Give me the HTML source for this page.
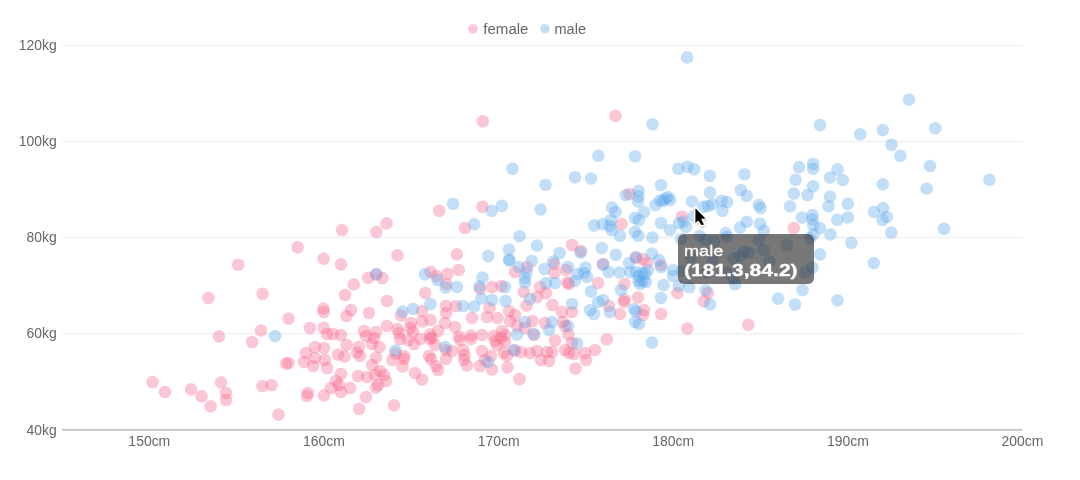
<!DOCTYPE html>
<html><head><meta charset="utf-8"><style>
html,body{margin:0;padding:0;background:#fff;}
body{width:1080px;height:480px;overflow:hidden;position:relative;font-family:"Liberation Sans",sans-serif;}
svg{position:absolute;left:0;top:0;}
.gs{will-change:transform;}
.tip{will-change:transform;position:absolute;left:678px;top:233.6px;width:136.4px;height:49.5px;border-radius:6px;background:rgba(50,50,50,0.66);color:#fff;}
.tip span{position:absolute;left:6px;display:inline-block;transform-origin:0 0;white-space:nowrap;font-size:15px;line-height:15px;}
.tip .l1{top:8.5px;-webkit-text-stroke:0.3px #fff;transform:scaleX(1.21);}
.tip .l2{top:28.5px;font-weight:bold;-webkit-text-stroke:0.3px #fff;font-size:16px;line-height:16px;transform:scaleX(1.317);}
</style></head><body>
<svg class="gs" width="1080" height="480" viewBox="0 0 1080 480">
<g stroke="#f1f1f1" stroke-width="1.5"><line x1="62" y1="45.4" x2="1022.5" y2="45.4"/><line x1="62" y1="141.5" x2="1022.5" y2="141.5"/><line x1="62" y1="237.6" x2="1022.5" y2="237.6"/><line x1="62" y1="333.7" x2="1022.5" y2="333.7"/></g>
<line x1="62" y1="429.9" x2="1022.5" y2="429.9" stroke="#c2c2c2" stroke-width="1.8"/>
<g font-family="Liberation Sans" font-size="13.8" fill="#666"><text x="18.80" y="50.00" textLength="38.00" lengthAdjust="spacingAndGlyphs">120kg</text><text x="18.80" y="146.10" textLength="38.00" lengthAdjust="spacingAndGlyphs">100kg</text><text x="26.56" y="242.20" textLength="30.24" lengthAdjust="spacingAndGlyphs">80kg</text><text x="26.56" y="338.30" textLength="30.24" lengthAdjust="spacingAndGlyphs">60kg</text><text x="26.56" y="434.50" textLength="30.24" lengthAdjust="spacingAndGlyphs">40kg</text><text x="128.39" y="446.2" textLength="41.86" lengthAdjust="spacingAndGlyphs">150cm</text><text x="303.02" y="446.2" textLength="41.86" lengthAdjust="spacingAndGlyphs">160cm</text><text x="477.66" y="446.2" textLength="41.86" lengthAdjust="spacingAndGlyphs">170cm</text><text x="652.30" y="446.2" textLength="41.86" lengthAdjust="spacingAndGlyphs">180cm</text><text x="826.93" y="446.2" textLength="41.86" lengthAdjust="spacingAndGlyphs">190cm</text><text x="1001.57" y="446.2" textLength="41.86" lengthAdjust="spacingAndGlyphs">200cm</text></g>
<g fill="rgba(248,100,135,0.36)"><circle cx="297.6" cy="247.4" r="6.3"/><circle cx="323.6" cy="258.6" r="6.3"/><circle cx="341.0" cy="264.4" r="6.3"/><circle cx="238.2" cy="264.8" r="6.3"/><circle cx="262.6" cy="293.8" r="6.3"/><circle cx="208.4" cy="298.0" r="6.3"/><circle cx="345.0" cy="295.0" r="6.3"/><circle cx="323.6" cy="308.6" r="6.3"/><circle cx="323.6" cy="312.0" r="6.3"/><circle cx="288.6" cy="318.6" r="6.3"/><circle cx="309.8" cy="328.0" r="6.3"/><circle cx="323.6" cy="327.8" r="6.3"/><circle cx="261.0" cy="330.5" r="6.3"/><circle cx="219.0" cy="336.4" r="6.3"/><circle cx="252.2" cy="342.0" r="6.3"/><circle cx="327.0" cy="334.0" r="6.3"/><circle cx="333.0" cy="334.0" r="6.3"/><circle cx="341.0" cy="335.0" r="6.3"/><circle cx="306.0" cy="353.0" r="6.3"/><circle cx="315.0" cy="347.0" r="6.3"/><circle cx="324.0" cy="348.0" r="6.3"/><circle cx="315.0" cy="358.0" r="6.3"/><circle cx="304.0" cy="362.0" r="6.3"/><circle cx="313.0" cy="366.0" r="6.3"/><circle cx="325.0" cy="360.0" r="6.3"/><circle cx="327.0" cy="368.0" r="6.3"/><circle cx="152.6" cy="382.0" r="6.3"/><circle cx="165.0" cy="392.0" r="6.3"/><circle cx="191.0" cy="389.4" r="6.3"/><circle cx="201.6" cy="396.4" r="6.3"/><circle cx="210.6" cy="406.4" r="6.3"/><circle cx="221.0" cy="382.4" r="6.3"/><circle cx="226.0" cy="393.0" r="6.3"/><circle cx="226.0" cy="400.0" r="6.3"/><circle cx="262.4" cy="386.0" r="6.3"/><circle cx="271.6" cy="385.0" r="6.3"/><circle cx="278.4" cy="414.6" r="6.3"/><circle cx="308.0" cy="393.0" r="6.3"/><circle cx="307.0" cy="396.0" r="6.3"/><circle cx="324.0" cy="395.4" r="6.3"/><circle cx="482.8" cy="121.2" r="6.3"/><circle cx="615.5" cy="115.8" r="6.3"/><circle cx="439.2" cy="210.8" r="6.3"/><circle cx="482.5" cy="206.7" r="6.3"/><circle cx="465.0" cy="228.0" r="6.3"/><circle cx="386.6" cy="223.4" r="6.3"/><circle cx="376.4" cy="232.0" r="6.3"/><circle cx="342.0" cy="230.0" r="6.3"/><circle cx="629.5" cy="194.0" r="6.3"/><circle cx="682.0" cy="216.5" r="6.3"/><circle cx="621.5" cy="224.0" r="6.3"/><circle cx="793.8" cy="228.1" r="6.3"/><circle cx="397.5" cy="255.4" r="6.3"/><circle cx="456.9" cy="254.4" r="6.3"/><circle cx="368.1" cy="277.9" r="6.3"/><circle cx="382.5" cy="278.1" r="6.3"/><circle cx="353.8" cy="284.4" r="6.3"/><circle cx="387.0" cy="301.0" r="6.3"/><circle cx="430.6" cy="271.9" r="6.3"/><circle cx="436.5" cy="276.0" r="6.3"/><circle cx="447.5" cy="273.8" r="6.3"/><circle cx="458.8" cy="270.0" r="6.3"/><circle cx="446.3" cy="283.8" r="6.3"/><circle cx="425.3" cy="293.1" r="6.3"/><circle cx="554.5" cy="264.0" r="6.3"/><circle cx="554.5" cy="273.0" r="6.3"/><circle cx="566.0" cy="270.0" r="6.3"/><circle cx="515.0" cy="272.0" r="6.3"/><circle cx="527.0" cy="267.0" r="6.3"/><circle cx="492.0" cy="287.0" r="6.3"/><circle cx="501.5" cy="286.0" r="6.3"/><circle cx="540.0" cy="287.0" r="6.3"/><circle cx="572.0" cy="245.0" r="6.3"/><circle cx="581.0" cy="251.0" r="6.3"/><circle cx="603.0" cy="264.0" r="6.3"/><circle cx="643.0" cy="259.0" r="6.3"/><circle cx="647.0" cy="263.0" r="6.3"/><circle cx="661.0" cy="265.0" r="6.3"/><circle cx="636.0" cy="258.0" r="6.3"/><circle cx="567.5" cy="282.5" r="6.3"/><circle cx="569.0" cy="284.0" r="6.3"/><circle cx="598.0" cy="283.0" r="6.3"/><circle cx="624.5" cy="284.0" r="6.3"/><circle cx="624.5" cy="299.5" r="6.3"/><circle cx="638.0" cy="297.5" r="6.3"/><circle cx="572.0" cy="312.0" r="6.3"/><circle cx="562.0" cy="312.0" r="6.3"/><circle cx="609.0" cy="306.0" r="6.3"/><circle cx="620.0" cy="314.0" r="6.3"/><circle cx="644.0" cy="310.0" r="6.3"/><circle cx="643.0" cy="315.0" r="6.3"/><circle cx="661.0" cy="314.0" r="6.3"/><circle cx="677.4" cy="293.1" r="6.3"/><circle cx="708.0" cy="293.0" r="6.3"/><circle cx="703.8" cy="301.1" r="6.3"/><circle cx="687.3" cy="328.6" r="6.3"/><circle cx="748.3" cy="324.9" r="6.3"/><circle cx="401.0" cy="315.5" r="6.3"/><circle cx="422.0" cy="311.0" r="6.3"/><circle cx="351.0" cy="310.0" r="6.3"/><circle cx="346.5" cy="316.0" r="6.3"/><circle cx="369.0" cy="313.0" r="6.3"/><circle cx="446.0" cy="306.0" r="6.3"/><circle cx="446.0" cy="313.0" r="6.3"/><circle cx="430.5" cy="320.0" r="6.3"/><circle cx="422.0" cy="321.5" r="6.3"/><circle cx="411.0" cy="323.0" r="6.3"/><circle cx="387.0" cy="326.0" r="6.3"/><circle cx="397.5" cy="329.0" r="6.3"/><circle cx="399.0" cy="333.0" r="6.3"/><circle cx="410.5" cy="328.0" r="6.3"/><circle cx="413.0" cy="332.0" r="6.3"/><circle cx="376.0" cy="332.0" r="6.3"/><circle cx="364.0" cy="331.0" r="6.3"/><circle cx="430.0" cy="334.5" r="6.3"/><circle cx="438.0" cy="331.0" r="6.3"/><circle cx="445.0" cy="323.0" r="6.3"/><circle cx="523.8" cy="292.0" r="6.3"/><circle cx="546.0" cy="293.0" r="6.3"/><circle cx="537.0" cy="297.0" r="6.3"/><circle cx="526.5" cy="305.5" r="6.3"/><circle cx="552.5" cy="305.0" r="6.3"/><circle cx="456.0" cy="306.0" r="6.3"/><circle cx="489.5" cy="308.0" r="6.3"/><circle cx="472.0" cy="318.0" r="6.3"/><circle cx="487.0" cy="317.0" r="6.3"/><circle cx="497.5" cy="318.0" r="6.3"/><circle cx="509.0" cy="311.0" r="6.3"/><circle cx="515.0" cy="315.0" r="6.3"/><circle cx="510.0" cy="321.0" r="6.3"/><circle cx="517.0" cy="326.0" r="6.3"/><circle cx="532.5" cy="321.0" r="6.3"/><circle cx="545.0" cy="323.0" r="6.3"/><circle cx="455.0" cy="327.0" r="6.3"/><circle cx="459.0" cy="336.5" r="6.3"/><circle cx="471.0" cy="335.5" r="6.3"/><circle cx="482.0" cy="335.0" r="6.3"/><circle cx="494.0" cy="336.0" r="6.3"/><circle cx="502.0" cy="331.0" r="6.3"/><circle cx="505.0" cy="335.0" r="6.3"/><circle cx="525.0" cy="328.0" r="6.3"/><circle cx="563.0" cy="322.0" r="6.3"/><circle cx="565.0" cy="326.0" r="6.3"/><circle cx="568.5" cy="334.5" r="6.3"/><circle cx="555.0" cy="340.5" r="6.3"/><circle cx="572.0" cy="343.0" r="6.3"/><circle cx="606.8" cy="339.2" r="6.3"/><circle cx="565.0" cy="350.0" r="6.3"/><circle cx="569.0" cy="353.0" r="6.3"/><circle cx="585.0" cy="353.0" r="6.3"/><circle cx="595.0" cy="350.0" r="6.3"/><circle cx="552.0" cy="352.0" r="6.3"/><circle cx="574.0" cy="354.0" r="6.3"/><circle cx="338.0" cy="354.5" r="6.3"/><circle cx="346.5" cy="345.0" r="6.3"/><circle cx="344.5" cy="356.5" r="6.3"/><circle cx="341.0" cy="374.0" r="6.3"/><circle cx="366.0" cy="336.0" r="6.3"/><circle cx="374.0" cy="338.0" r="6.3"/><circle cx="372.0" cy="344.0" r="6.3"/><circle cx="379.5" cy="347.0" r="6.3"/><circle cx="359.0" cy="347.0" r="6.3"/><circle cx="357.0" cy="352.5" r="6.3"/><circle cx="360.0" cy="356.0" r="6.3"/><circle cx="376.0" cy="357.5" r="6.3"/><circle cx="372.0" cy="365.0" r="6.3"/><circle cx="395.5" cy="353.5" r="6.3"/><circle cx="392.5" cy="360.0" r="6.3"/><circle cx="404.0" cy="356.0" r="6.3"/><circle cx="404.0" cy="359.0" r="6.3"/><circle cx="402.5" cy="366.5" r="6.3"/><circle cx="400.0" cy="339.0" r="6.3"/><circle cx="408.0" cy="340.0" r="6.3"/><circle cx="414.0" cy="344.0" r="6.3"/><circle cx="420.0" cy="339.0" r="6.3"/><circle cx="430.0" cy="339.0" r="6.3"/><circle cx="435.0" cy="345.0" r="6.3"/><circle cx="429.0" cy="356.0" r="6.3"/><circle cx="431.0" cy="359.0" r="6.3"/><circle cx="436.0" cy="366.0" r="6.3"/><circle cx="446.0" cy="350.0" r="6.3"/><circle cx="446.0" cy="359.0" r="6.3"/><circle cx="415.0" cy="373.0" r="6.3"/><circle cx="422.0" cy="379.5" r="6.3"/><circle cx="380.0" cy="371.0" r="6.3"/><circle cx="384.0" cy="375.0" r="6.3"/><circle cx="375.0" cy="375.0" r="6.3"/><circle cx="358.0" cy="376.0" r="6.3"/><circle cx="367.0" cy="377.0" r="6.3"/><circle cx="460.0" cy="340.0" r="6.3"/><circle cx="471.0" cy="339.0" r="6.3"/><circle cx="495.0" cy="341.0" r="6.3"/><circle cx="501.0" cy="338.0" r="6.3"/><circle cx="505.0" cy="342.0" r="6.3"/><circle cx="452.0" cy="351.0" r="6.3"/><circle cx="463.0" cy="350.0" r="6.3"/><circle cx="464.5" cy="355.0" r="6.3"/><circle cx="464.0" cy="360.0" r="6.3"/><circle cx="467.0" cy="365.5" r="6.3"/><circle cx="482.0" cy="351.0" r="6.3"/><circle cx="491.0" cy="356.0" r="6.3"/><circle cx="485.0" cy="360.0" r="6.3"/><circle cx="480.0" cy="366.0" r="6.3"/><circle cx="492.0" cy="369.5" r="6.3"/><circle cx="504.0" cy="353.0" r="6.3"/><circle cx="507.0" cy="356.0" r="6.3"/><circle cx="521.0" cy="352.0" r="6.3"/><circle cx="530.0" cy="353.0" r="6.3"/><circle cx="537.0" cy="351.0" r="6.3"/><circle cx="541.0" cy="360.0" r="6.3"/><circle cx="547.0" cy="352.0" r="6.3"/><circle cx="549.0" cy="361.0" r="6.3"/><circle cx="507.5" cy="367.5" r="6.3"/><circle cx="519.5" cy="379.0" r="6.3"/><circle cx="497.0" cy="345.0" r="6.3"/><circle cx="586.0" cy="360.0" r="6.3"/><circle cx="575.5" cy="368.5" r="6.3"/><circle cx="359.0" cy="409.0" r="6.3"/><circle cx="366.0" cy="397.0" r="6.3"/><circle cx="394.0" cy="405.4" r="6.3"/><circle cx="376.0" cy="387.6" r="6.3"/><circle cx="378.0" cy="385.0" r="6.3"/><circle cx="341.0" cy="392.0" r="6.3"/><circle cx="331.0" cy="388.0" r="6.3"/><circle cx="336.0" cy="381.0" r="6.3"/><circle cx="339.0" cy="385.0" r="6.3"/><circle cx="350.0" cy="388.0" r="6.3"/><circle cx="386.0" cy="381.0" r="6.3"/><circle cx="438.0" cy="370.0" r="6.3"/><circle cx="624.0" cy="302.0" r="6.3"/><circle cx="432.0" cy="337.5" r="6.3"/><circle cx="480.0" cy="289.0" r="6.3"/><circle cx="376.3" cy="274.5" r="6.3"/><circle cx="515.0" cy="350.5" r="6.3"/><circle cx="534.0" cy="335.0" r="6.3"/><circle cx="286.0" cy="363.5" r="6.3"/><circle cx="288.5" cy="363.0" r="6.3"/></g>
<g fill="rgba(90,165,235,0.36)"><circle cx="275.0" cy="336.0" r="6.3"/><circle cx="687.1" cy="57.4" r="6.3"/><circle cx="652.5" cy="124.2" r="6.3"/><circle cx="909.0" cy="99.5" r="6.3"/><circle cx="820.0" cy="125.0" r="6.3"/><circle cx="860.3" cy="134.2" r="6.3"/><circle cx="882.8" cy="130.0" r="6.3"/><circle cx="935.2" cy="128.3" r="6.3"/><circle cx="891.5" cy="144.7" r="6.3"/><circle cx="900.3" cy="155.8" r="6.3"/><circle cx="598.3" cy="155.8" r="6.3"/><circle cx="635.0" cy="156.3" r="6.3"/><circle cx="512.5" cy="168.7" r="6.3"/><circle cx="545.5" cy="184.7" r="6.3"/><circle cx="575.0" cy="177.2" r="6.3"/><circle cx="453.0" cy="203.8" r="6.3"/><circle cx="491.7" cy="210.8" r="6.3"/><circle cx="502.0" cy="205.8" r="6.3"/><circle cx="540.5" cy="209.5" r="6.3"/><circle cx="474.2" cy="224.2" r="6.3"/><circle cx="519.5" cy="236.3" r="6.3"/><circle cx="591.0" cy="178.5" r="6.3"/><circle cx="678.3" cy="168.7" r="6.3"/><circle cx="687.5" cy="166.7" r="6.3"/><circle cx="694.2" cy="169.2" r="6.3"/><circle cx="709.7" cy="175.8" r="6.3"/><circle cx="744.5" cy="174.2" r="6.3"/><circle cx="661.0" cy="185.0" r="6.3"/><circle cx="626.0" cy="195.0" r="6.3"/><circle cx="638.5" cy="191.0" r="6.3"/><circle cx="638.5" cy="196.5" r="6.3"/><circle cx="638.0" cy="201.5" r="6.3"/><circle cx="655.5" cy="205.0" r="6.3"/><circle cx="660.0" cy="200.5" r="6.3"/><circle cx="665.5" cy="198.5" r="6.3"/><circle cx="670.0" cy="200.0" r="6.3"/><circle cx="692.0" cy="201.5" r="6.3"/><circle cx="710.0" cy="192.5" r="6.3"/><circle cx="703.3" cy="206.7" r="6.3"/><circle cx="712.5" cy="204.2" r="6.3"/><circle cx="721.7" cy="200.8" r="6.3"/><circle cx="722.5" cy="210.8" r="6.3"/><circle cx="740.8" cy="190.0" r="6.3"/><circle cx="746.7" cy="195.8" r="6.3"/><circle cx="612.0" cy="207.5" r="6.3"/><circle cx="615.5" cy="212.0" r="6.3"/><circle cx="644.0" cy="212.0" r="6.3"/><circle cx="635.0" cy="218.0" r="6.3"/><circle cx="639.0" cy="220.0" r="6.3"/><circle cx="661.0" cy="223.0" r="6.3"/><circle cx="679.0" cy="223.0" r="6.3"/><circle cx="694.0" cy="216.0" r="6.3"/><circle cx="611.0" cy="220.0" r="6.3"/><circle cx="602.5" cy="224.0" r="6.3"/><circle cx="594.0" cy="225.5" r="6.3"/><circle cx="610.0" cy="226.0" r="6.3"/><circle cx="611.7" cy="230.0" r="6.3"/><circle cx="620.0" cy="235.8" r="6.3"/><circle cx="635.0" cy="231.7" r="6.3"/><circle cx="638.3" cy="235.8" r="6.3"/><circle cx="670.0" cy="230.0" r="6.3"/><circle cx="652.5" cy="237.5" r="6.3"/><circle cx="740.0" cy="227.5" r="6.3"/><circle cx="746.7" cy="221.7" r="6.3"/><circle cx="799.0" cy="167.1" r="6.3"/><circle cx="813.1" cy="163.8" r="6.3"/><circle cx="813.1" cy="168.8" r="6.3"/><circle cx="837.5" cy="169.4" r="6.3"/><circle cx="830.0" cy="177.5" r="6.3"/><circle cx="842.8" cy="180.0" r="6.3"/><circle cx="795.6" cy="179.8" r="6.3"/><circle cx="813.1" cy="186.3" r="6.3"/><circle cx="807.5" cy="195.0" r="6.3"/><circle cx="793.8" cy="193.5" r="6.3"/><circle cx="830.0" cy="196.6" r="6.3"/><circle cx="828.5" cy="206.3" r="6.3"/><circle cx="847.8" cy="203.8" r="6.3"/><circle cx="790.0" cy="206.3" r="6.3"/><circle cx="758.8" cy="205.0" r="6.3"/><circle cx="760.6" cy="208.1" r="6.3"/><circle cx="930.0" cy="166.0" r="6.3"/><circle cx="882.8" cy="184.4" r="6.3"/><circle cx="926.6" cy="188.5" r="6.3"/><circle cx="989.4" cy="179.8" r="6.3"/><circle cx="874.0" cy="211.9" r="6.3"/><circle cx="883.1" cy="208.1" r="6.3"/><circle cx="886.9" cy="216.9" r="6.3"/><circle cx="760.0" cy="223.8" r="6.3"/><circle cx="763.8" cy="230.6" r="6.3"/><circle cx="801.9" cy="217.5" r="6.3"/><circle cx="812.5" cy="215.0" r="6.3"/><circle cx="812.5" cy="219.4" r="6.3"/><circle cx="813.1" cy="225.0" r="6.3"/><circle cx="820.0" cy="228.1" r="6.3"/><circle cx="813.5" cy="234.4" r="6.3"/><circle cx="830.4" cy="234.4" r="6.3"/><circle cx="837.3" cy="219.8" r="6.3"/><circle cx="847.9" cy="217.5" r="6.3"/><circle cx="882.5" cy="220.0" r="6.3"/><circle cx="851.3" cy="242.8" r="6.3"/><circle cx="820.0" cy="254.4" r="6.3"/><circle cx="873.8" cy="263.1" r="6.3"/><circle cx="758.8" cy="240.0" r="6.3"/><circle cx="763.8" cy="250.0" r="6.3"/><circle cx="786.9" cy="245.0" r="6.3"/><circle cx="769.4" cy="261.3" r="6.3"/><circle cx="748.8" cy="252.5" r="6.3"/><circle cx="810.0" cy="238.1" r="6.3"/><circle cx="812.5" cy="267.5" r="6.3"/><circle cx="891.3" cy="232.5" r="6.3"/><circle cx="944.0" cy="228.8" r="6.3"/><circle cx="376.3" cy="274.0" r="6.3"/><circle cx="425.0" cy="274.4" r="6.3"/><circle cx="437.5" cy="280.0" r="6.3"/><circle cx="445.6" cy="287.5" r="6.3"/><circle cx="456.9" cy="286.9" r="6.3"/><circle cx="430.5" cy="304.0" r="6.3"/><circle cx="537.0" cy="245.5" r="6.3"/><circle cx="488.3" cy="256.0" r="6.3"/><circle cx="509.0" cy="249.5" r="6.3"/><circle cx="509.0" cy="259.5" r="6.3"/><circle cx="531.8" cy="261.0" r="6.3"/><circle cx="559.5" cy="253.0" r="6.3"/><circle cx="553.0" cy="261.5" r="6.3"/><circle cx="544.5" cy="269.0" r="6.3"/><circle cx="519.0" cy="267.0" r="6.3"/><circle cx="526.5" cy="272.0" r="6.3"/><circle cx="525.0" cy="278.0" r="6.3"/><circle cx="525.0" cy="282.5" r="6.3"/><circle cx="482.5" cy="277.5" r="6.3"/><circle cx="479.5" cy="286.5" r="6.3"/><circle cx="505.0" cy="287.0" r="6.3"/><circle cx="546.0" cy="283.0" r="6.3"/><circle cx="555.0" cy="283.0" r="6.3"/><circle cx="580.5" cy="252.5" r="6.3"/><circle cx="601.8" cy="248.0" r="6.3"/><circle cx="615.7" cy="254.8" r="6.3"/><circle cx="652.0" cy="253.5" r="6.3"/><circle cx="603.0" cy="264.5" r="6.3"/><circle cx="568.0" cy="267.0" r="6.3"/><circle cx="585.5" cy="267.5" r="6.3"/><circle cx="584.0" cy="273.0" r="6.3"/><circle cx="577.5" cy="274.0" r="6.3"/><circle cx="608.5" cy="272.0" r="6.3"/><circle cx="619.5" cy="272.5" r="6.3"/><circle cx="629.0" cy="263.0" r="6.3"/><circle cx="636.0" cy="257.0" r="6.3"/><circle cx="659.0" cy="260.0" r="6.3"/><circle cx="661.0" cy="267.0" r="6.3"/><circle cx="642.0" cy="273.0" r="6.3"/><circle cx="636.0" cy="272.0" r="6.3"/><circle cx="630.0" cy="272.0" r="6.3"/><circle cx="648.0" cy="270.0" r="6.3"/><circle cx="575.0" cy="281.0" r="6.3"/><circle cx="587.0" cy="277.0" r="6.3"/><circle cx="591.0" cy="291.5" r="6.3"/><circle cx="621.0" cy="290.0" r="6.3"/><circle cx="639.0" cy="276.0" r="6.3"/><circle cx="643.0" cy="281.0" r="6.3"/><circle cx="640.0" cy="284.0" r="6.3"/><circle cx="663.5" cy="285.0" r="6.3"/><circle cx="661.0" cy="298.0" r="6.3"/><circle cx="572.0" cy="304.0" r="6.3"/><circle cx="598.0" cy="302.0" r="6.3"/><circle cx="603.0" cy="300.0" r="6.3"/><circle cx="590.0" cy="310.0" r="6.3"/><circle cx="594.0" cy="314.0" r="6.3"/><circle cx="610.0" cy="312.0" r="6.3"/><circle cx="634.0" cy="309.0" r="6.3"/><circle cx="681.0" cy="239.0" r="6.3"/><circle cx="699.6" cy="236.1" r="6.3"/><circle cx="705.6" cy="239.8" r="6.3"/><circle cx="714.4" cy="241.3" r="6.3"/><circle cx="727.0" cy="236.9" r="6.3"/><circle cx="744.0" cy="251.7" r="6.3"/><circle cx="740.0" cy="256.0" r="6.3"/><circle cx="733.7" cy="258.3" r="6.3"/><circle cx="804.8" cy="272.4" r="6.3"/><circle cx="713.0" cy="259.0" r="6.3"/><circle cx="707.0" cy="272.4" r="6.3"/><circle cx="726.3" cy="272.4" r="6.3"/><circle cx="733.7" cy="278.3" r="6.3"/><circle cx="681.9" cy="270.9" r="6.3"/><circle cx="690.7" cy="257.6" r="6.3"/><circle cx="735.2" cy="284.3" r="6.3"/><circle cx="678.9" cy="285.7" r="6.3"/><circle cx="689.3" cy="287.2" r="6.3"/><circle cx="705.6" cy="290.2" r="6.3"/><circle cx="686.0" cy="227.0" r="6.3"/><circle cx="725.6" cy="233.1" r="6.3"/><circle cx="673.0" cy="270.0" r="6.3"/><circle cx="673.0" cy="276.0" r="6.3"/><circle cx="710.0" cy="304.3" r="6.3"/><circle cx="778.1" cy="298.6" r="6.3"/><circle cx="837.5" cy="300.4" r="6.3"/><circle cx="413.0" cy="309.0" r="6.3"/><circle cx="402.5" cy="311.5" r="6.3"/><circle cx="481.5" cy="298.5" r="6.3"/><circle cx="492.0" cy="300.0" r="6.3"/><circle cx="505.5" cy="301.0" r="6.3"/><circle cx="530.0" cy="299.0" r="6.3"/><circle cx="463.0" cy="306.0" r="6.3"/><circle cx="474.0" cy="306.5" r="6.3"/><circle cx="525.0" cy="322.0" r="6.3"/><circle cx="552.0" cy="322.0" r="6.3"/><circle cx="549.0" cy="330.0" r="6.3"/><circle cx="517.0" cy="334.5" r="6.3"/><circle cx="533.5" cy="334.0" r="6.3"/><circle cx="635.0" cy="322.0" r="6.3"/><circle cx="639.0" cy="324.0" r="6.3"/><circle cx="568.0" cy="326.0" r="6.3"/><circle cx="577.0" cy="343.5" r="6.3"/><circle cx="652.0" cy="342.5" r="6.3"/><circle cx="395.5" cy="350.5" r="6.3"/><circle cx="445.0" cy="347.0" r="6.3"/><circle cx="488.0" cy="362.0" r="6.3"/><circle cx="514.0" cy="350.0" r="6.3"/><circle cx="509.5" cy="260.5" r="6.3"/><circle cx="636.0" cy="311.5" r="6.3"/><circle cx="645.0" cy="274.0" r="6.3"/><circle cx="638.5" cy="281.0" r="6.3"/><circle cx="646.0" cy="282.0" r="6.3"/><circle cx="663.0" cy="201.0" r="6.3"/><circle cx="668.0" cy="197.0" r="6.3"/><circle cx="708.0" cy="206.0" r="6.3"/><circle cx="727.0" cy="202.0" r="6.3"/><circle cx="683.5" cy="221.5" r="6.3"/><circle cx="802.5" cy="290.0" r="6.3"/><circle cx="795.0" cy="304.5" r="6.3"/></g>
<circle cx="473" cy="28.8" r="4.8" fill="rgba(248,100,135,0.36)"/>
<text x="483.3" y="33.7" font-family="Liberation Sans" font-size="14.7" fill="#666" textLength="45.2" lengthAdjust="spacingAndGlyphs">female</text>
<circle cx="545" cy="28.8" r="4.8" fill="rgba(90,165,235,0.36)"/>
<text x="554.4" y="33.7" font-family="Liberation Sans" font-size="14.7" fill="#666" textLength="31.6" lengthAdjust="spacingAndGlyphs">male</text>
</svg>
<div class="tip"><span class="l1">male</span><span class="l2">(181.3,84.2)</span></div>
<svg width="1080" height="480" viewBox="0 0 1080 480">
<defs><filter id="sh" x="-50%" y="-50%" width="200%" height="200%"><feGaussianBlur stdDeviation="1"/></filter></defs>
<path d="M694.7 206.6 L694.7 224.4 L698.2 221.6 L701.4 226.2 L704.9 224.6 L702.1 219.4 L707.0 218.9 Z" transform="translate(0.6,1.2)" fill="rgba(0,0,0,0.35)" filter="url(#sh)"/>
<path d="M694.7 206.6 L694.7 224.4 L698.2 221.6 L701.4 226.2 L704.9 224.6 L702.1 219.4 L707.0 218.9 Z" fill="#000" stroke="#fff" stroke-width="1.4" stroke-linejoin="round"/>
</svg>
</body></html>
